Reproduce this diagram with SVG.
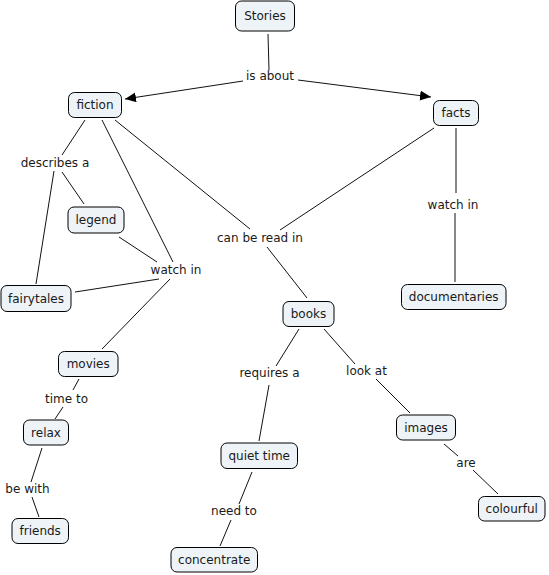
<svg xmlns="http://www.w3.org/2000/svg" width="549" height="575" viewBox="0 0 549 575">
<style>
.n rect{fill:#edf3f6;stroke:#000;stroke-width:1;}
text{font-family:"DejaVu Sans",Verdana,sans-serif;font-size:12px;fill:#1a1a1a;text-anchor:middle;}
.c line{stroke:#111;stroke-width:1;fill:none;}
</style>
<defs>
<marker id="ah" markerUnits="userSpaceOnUse" markerWidth="12" markerHeight="10" refX="11" refY="5" orient="auto">
<path d="M0,0 L11,5 L0,10 Z" fill="#000"/>
</marker>
</defs>
<rect width="549" height="575" fill="#fff"/>
<g class="c" id="connectors">
<line x1="268" y1="34" x2="269" y2="70"/>
<line x1="243" y1="81" x2="125" y2="99" marker-end="url(#ah)"/>
<line x1="298" y1="80" x2="431" y2="97" marker-end="url(#ah)"/>
<line x1="85" y1="120" x2="62" y2="155"/>
<line x1="102" y1="120" x2="173" y2="262"/>
<line x1="115" y1="120" x2="250" y2="229"/>
<line x1="434" y1="128" x2="280" y2="230"/>
<line x1="456" y1="128" x2="456" y2="193"/>
<line x1="455" y1="213" x2="455" y2="282"/>
<line x1="62" y1="172" x2="84" y2="204"/>
<line x1="54" y1="171" x2="36" y2="284"/>
<line x1="119" y1="237" x2="157" y2="262"/>
<line x1="159" y1="279" x2="75" y2="292"/>
<line x1="170" y1="279" x2="102" y2="349"/>
<line x1="267" y1="247" x2="307" y2="298"/>
<line x1="299" y1="329" x2="276" y2="366"/>
<line x1="269" y1="385" x2="259" y2="441"/>
<line x1="324" y1="329" x2="355" y2="364"/>
<line x1="376" y1="379" x2="410" y2="413"/>
<line x1="444" y1="444" x2="458" y2="456"/>
<line x1="473" y1="470" x2="498" y2="494"/>
<line x1="252" y1="472" x2="239" y2="504"/>
<line x1="231" y1="520" x2="220" y2="546"/>
<line x1="79" y1="379" x2="73" y2="390"/>
<line x1="63" y1="407" x2="55" y2="419"/>
<line x1="42" y1="448" x2="31" y2="482"/>
<line x1="32" y1="497" x2="39" y2="517"/>
<text x="270" y="80">is about</text>
<text x="55" y="167">describes a</text>
<text x="176" y="274">watch in</text>
<text x="260" y="242">can be read in</text>
<text x="453" y="209">watch in</text>
<text x="269.5" y="377">requires a</text>
<text x="366.5" y="375">look at</text>
<text x="466" y="467">are</text>
<text x="234" y="515">need to</text>
<text x="66.5" y="403">time to</text>
<text x="27.5" y="493">be with</text>
</g>
<g class="n" id="stories"><rect x="235.5" y="1" width="59" height="30" rx="6"/><text x="265" y="20">Stories</text></g>
<g class="n" id="fiction"><rect x="68.5" y="92.5" width="53" height="25" rx="6"/><text x="95" y="109">fiction</text></g>
<g class="n" id="facts"><rect x="433.5" y="100.5" width="45" height="25" rx="6"/><text x="456" y="117">facts</text></g>
<g class="n" id="documentaries"><rect x="401.5" y="284.5" width="104.5" height="25" rx="6"/><text x="453.7" y="301">documentaries</text></g>
<g class="n" id="legend"><rect x="68" y="207" width="56" height="26" rx="6"/><text x="96" y="224">legend</text></g>
<g class="n" id="fairytales"><rect x="1" y="285.5" width="70" height="26" rx="6"/><text x="36" y="302.5">fairytales</text></g>
<g class="n" id="books"><rect x="283" y="301.5" width="51" height="25" rx="6"/><text x="308.5" y="318">books</text></g>
<g class="n" id="quiet-time"><rect x="221" y="443" width="76.5" height="25.5" rx="6"/><text x="259.2" y="460">quiet time</text></g>
<g class="n" id="images"><rect x="396.5" y="415" width="59" height="25" rx="6"/><text x="426" y="431.5">images</text></g>
<g class="n" id="colourful"><rect x="478.5" y="496.5" width="66.5" height="24.5" rx="6"/><text x="511.7" y="513">colourful</text></g>
<g class="n" id="concentrate"><rect x="171" y="547.5" width="86.5" height="24.5" rx="6"/><text x="214.2" y="564">concentrate</text></g>
<g class="n" id="movies"><rect x="58.5" y="351.5" width="59.5" height="25" rx="6"/><text x="88.2" y="368">movies</text></g>
<g class="n" id="relax"><rect x="23.5" y="420" width="45" height="25" rx="6"/><text x="46" y="436.5">relax</text></g>
<g class="n" id="friends"><rect x="12" y="518.5" width="56.5" height="25" rx="6"/><text x="40.2" y="535">friends</text></g>
</svg>
